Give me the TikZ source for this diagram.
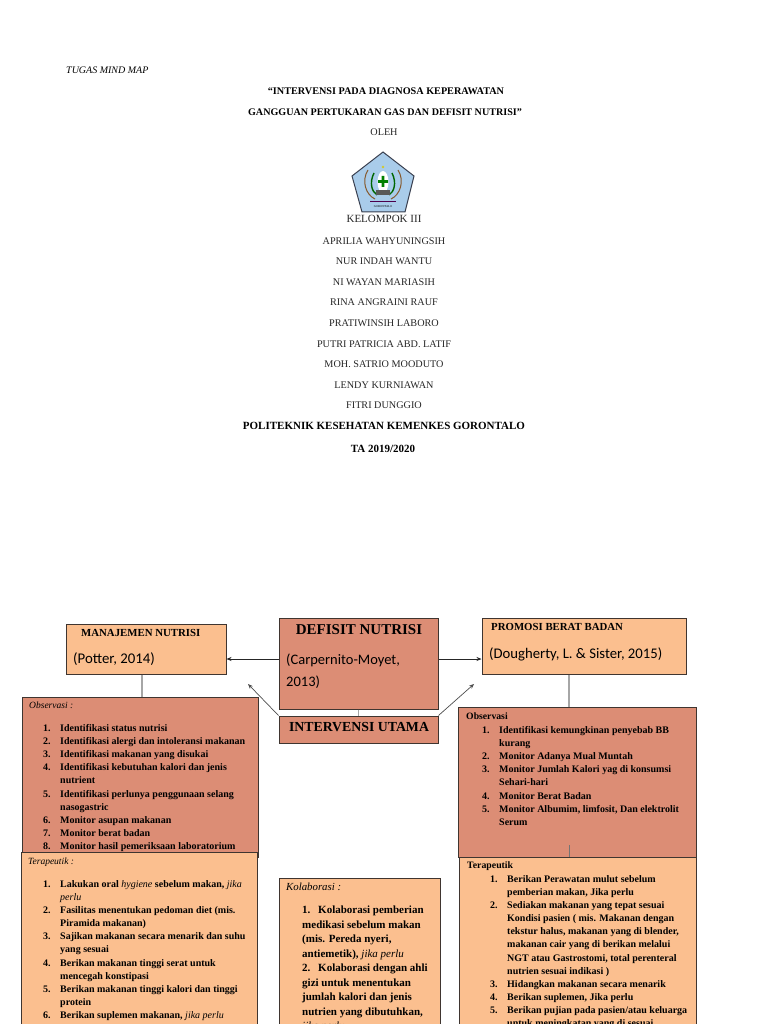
\documentclass[tikz,border=0pt]{standalone}
\usepackage{fontspec}
\setmainfont{Liberation Serif}
\newfontfamily\calibrifont{Carlito}
\usepackage{xcolor}
\usepackage{tikz}
\usetikzlibrary{positioning,shapes.geometric,arrows.meta}
\definecolor{peach}{HTML}{FBBF8F}
\definecolor{salmon}{HTML}{DC8D75}
\definecolor{edge}{HTML}{3F3530}
\definecolor{joint}{HTML}{A6A6A6}
\definecolor{logoblue}{HTML}{A9CCEA}
\definecolor{logonavy}{HTML}{3A4050}
\tikzset{
  peachbox/.style={draw=edge, line width=1pt, fill=peach},
  salmonbox/.style={draw=edge, line width=1pt, fill=salmon},
  arrow/.style={-{Stealth[length=5pt,width=4pt]}, draw=black!85, line width=0.7pt},
  jointline/.style={draw=joint, line width=1.3pt},
  plainline/.style={font=\fontsize{10.2}{12}\selectfont, text=black!85, inner sep=0pt},
  boldline/.style={font=\fontsize{10.1}{12}\selectfont\bfseries, inner sep=0pt},
  listtext/.style={anchor=north west, align=left, inner sep=0pt, font=\fontsize{10}{13.15}\selectfont\bfseries},
  widelist/.style={anchor=north west, align=left, inner sep=0pt, font=\fontsize{11}{14.5}\selectfont\bfseries}
}
\newcommand{\itm}[2]{\makebox[17pt][l]{#1}#2}

\begin{document}
\begin{tikzpicture}[x=1pt,y=-1pt]
  \useasboundingbox (0,0) rectangle (768,1024);
  \clip (0,0) rectangle (768,1024);

  % cover page
  \node[font=\fontsize{10}{12}\selectfont\itshape, inner sep=0pt, anchor=west] (task) at (66,70) {TUGAS MIND MAP};
  \node[font=\fontsize{10.2}{12}\selectfont\bfseries, inner sep=0pt] (titlea) at (386,91) {``INTERVENSI PADA DIAGNOSA KEPERAWATAN};
  \node[boldline] (titleb) at (385,112) {GANGGUAN PERTUKARAN GAS DAN DEFISIT NUTRISI''};
  \node[plainline] (by) at (384,132) {OLEH};

  % logo
  \draw[fill=logoblue, draw=logonavy, line width=1pt] (383,152) -- (414,176) -- (405,212) -- (362,212) -- (352,176) -- cycle;
  \fill[white] (383,182) ellipse (5.5 and 11);
  \fill[green!50!black] (381.7,176) rectangle (384.3,187) (378,180.2) rectangle (388,182.8);
  \draw[green!40!black, line width=1.4pt] (374,173) .. controls (369,183) and (372,192) .. (377,195);
  \draw[green!40!black, line width=1.4pt] (392,173) .. controls (397,183) and (394,192) .. (389,195);
  \draw[brown!70!black, line width=1pt] (368,170) .. controls (361,181) and (366,195) .. (375,199);
  \draw[brown!70!black, line width=1pt] (398,170) .. controls (405,181) and (400,195) .. (391,199);
  \fill[black!65] (376,190) rectangle (390,195);
  \draw[violet!60!black, line width=0.8pt] (370,201) -- (396,201);
  \fill[yellow!80!black] (383,167) circle (1.3);
  \node[font=\fontsize{3}{3.5}\selectfont, inner sep=0pt] (campus) at (383,207) {GORONTALO};

  \node[font=\fontsize{11}{13}\selectfont, text=black!85, inner sep=0pt] (group) at (384,219) {KELOMPOK III};
  \node[plainline] (m1) at (384,241) {APRILIA WAHYUNINGSIH};
  \node[plainline] (m2) at (384,261) {NUR INDAH WANTU};
  \node[plainline] (m3) at (384,282) {NI WAYAN MARIASIH};
  \node[plainline] (m4) at (384,302) {RINA ANGRAINI RAUF};
  \node[plainline] (m5) at (384,323) {PRATIWINSIH LABORO};
  \node[plainline] (m6) at (384,344) {PUTRI PATRICIA ABD. LATIF};
  \node[plainline] (m7) at (384,364) {MOH. SATRIO MOODUTO};
  \node[plainline] (m8) at (384,385) {LENDY KURNIAWAN};
  \node[plainline] (m9) at (384,405) {FITRI DUNGGIO};
  \node[font=\fontsize{11}{13}\selectfont\bfseries, inner sep=0pt] (school) at (384,426) {POLITEKNIK KESEHATAN KEMENKES GORONTALO};
  \node[font=\fontsize{11}{13}\selectfont\bfseries, inner sep=0pt] (year) at (383,449) {TA 2019/2020};

  % boxes
  \node[peachbox, minimum width=160pt, minimum height=50pt] (manajemen) at (146,649) {};
  \node[salmonbox, minimum width=159pt, minimum height=91pt] (defisit) at (358.5,663.5) {};
  \node[salmonbox, minimum width=159pt, minimum height=27pt] (utama) at (358.5,729.5) {};
  \node[peachbox, minimum width=204pt, minimum height=56pt] (promosi) at (584,646) {};
  \node[salmonbox, minimum width=236pt, minimum height=160pt] (obsleft) at (140,777) {};
  \node[salmonbox, minimum width=238pt, minimum height=150pt] (obsright) at (577,782) {};

  \node[font=\fontsize{10.8}{12}\selectfont\bfseries, inner sep=0pt, anchor=west] (manajemenhead) at (81,633) {MANAJEMEN NUTRISI};
  \node[font=\calibrifont\fontsize{14.8}{16}\selectfont, inner sep=0pt, anchor=west] (manajemenref) at (73,659) {(Potter, 2014)};
  \node[font=\fontsize{15}{17}\selectfont\bfseries, inner sep=0pt] (defisithead) at (359,630) {DEFISIT NUTRISI};
  \node[font=\calibrifont\fontsize{14.5}{21.5}\selectfont, inner sep=0pt, anchor=north west, align=left] (defisitref) at (286,654) {(Carpernito-Moyet,\\2013)};
  \node[font=\fontsize{13.8}{15}\selectfont\bfseries, inner sep=0pt] (utamahead) at (359,727) {INTERVENSI UTAMA};
  \node[font=\fontsize{10.8}{12}\selectfont\bfseries, inner sep=0pt, anchor=west] (promosihead) at (491,627) {PROMOSI BERAT BADAN};
  \node[font=\calibrifont\fontsize{14.7}{16}\selectfont, inner sep=0pt, anchor=west] (promosiref) at (489,654) {(Dougherty, L. \& Sister, 2015)};

  % connectors
  \coordinate (leftend) at (248,684);
  \coordinate (rightend) at (474,684);
  \draw[arrow] (defisit.west |- 0,659) -- (manajemen.east |- 0,659);
  \draw[arrow] (defisit.east |- 0,659) -- (promosi.west |- 0,659);
  \draw[arrow, black!70] (utama.north west) -- (leftend);
  \draw[arrow, black!70] (utama.north east) -- (rightend);
  \draw[jointline] (defisit) -- (utama);
  \draw[jointline] (manajemen.south -| 142,0) -- (obsleft.north -| 142,0);
  \draw[jointline] (promosi.south -| 569,0) -- (obsright.north -| 569,0);

  % left column
  \node[font=\fontsize{9.5}{11}\selectfont\itshape, inner sep=0pt, anchor=west] (obslefthead) at (29,705) {Observasi :};
  \node[listtext] (obsleftlist) at (43,724) {%
    \itm{1.}{Identifikasi status nutrisi}\\
    \itm{2.}{Identifikasi alergi dan intoleransi makanan}\\
    \itm{3.}{Identifikasi makanan yang disukai}\\
    \itm{4.}{Identifikasi kebutuhan kalori dan jenis}\\
    \itm{}{nutrient}\\
    \itm{5.}{Identifikasi perlunya penggunaan selang}\\
    \itm{}{nasogastric}\\
    \itm{6.}{Monitor asupan makanan}\\
    \itm{7.}{Monitor berat badan}\\
    \itm{8.}{Monitor hasil pemeriksaan laboratorium}};

  \node[peachbox, minimum width=236pt, minimum height=190pt] (terleft) at (139,947) {};
  \node[font=\fontsize{9.5}{11}\selectfont\itshape, inner sep=0pt, anchor=west] (terlefthead) at (28,862) {Terapeutik :};
  \node[listtext] (terleftlist) at (43,880) {%
    \itm{1.}{Lakukan oral \textmd{\itshape hygiene} sebelum makan, \textmd{\itshape jika}}\\
    \itm{}{\textmd{\itshape perlu}}\\
    \itm{2.}{Fasilitas menentukan pedoman diet (mis.}\\
    \itm{}{Piramida makanan)}\\
    \itm{3.}{Sajikan makanan secara menarik dan suhu}\\
    \itm{}{yang sesuai}\\
    \itm{4.}{Berikan makanan tinggi serat untuk}\\
    \itm{}{mencegah konstipasi}\\
    \itm{5.}{Berikan makanan tinggi kalori dan tinggi}\\
    \itm{}{protein}\\
    \itm{6.}{Berikan suplemen makanan, \textmd{\itshape jika perlu}}};

  % middle column
  \node[peachbox, minimum width=161pt, minimum height=160pt] (kolaborasi) at (359.5,958) {};
  \node[font=\fontsize{10.8}{12}\selectfont\itshape, inner sep=0pt, anchor=west] (kolaborasihead) at (286,887) {Kolaborasi :};
  \node[widelist] (kolaborasilist) at (302,906) {%
    \makebox[16pt][l]{1.}Kolaborasi pemberian\\
    medikasi sebelum makan\\
    (mis. Pereda nyeri,\\
    antiemetik), \textmd{\itshape jika perlu}\\
    \makebox[16pt][l]{2.}Kolaborasi dengan ahli\\
    gizi untuk menentukan\\
    jumlah kalori dan jenis\\
    nutrien yang dibutuhkan,\\
    \textmd{\itshape jika perlu}};

  % right column
  \node[font=\fontsize{9.7}{11}\selectfont\bfseries, inner sep=0pt, anchor=west] (obsrighthead) at (466,716) {Observasi};
  \node[listtext] (obsrightlist) at (482,726) {%
    \itm{1.}{Identifikasi kemungkinan penyebab BB}\\
    \itm{}{kurang}\\
    \itm{2.}{Monitor Adanya Mual Muntah}\\
    \itm{3.}{Monitor Jumlah Kalori yag di konsumsi}\\
    \itm{}{Sehari-hari}\\
    \itm{4.}{Monitor Berat Badan}\\
    \itm{5.}{Monitor Albumim, limfosit, Dan elektrolit}\\
    \itm{}{Serum}};

  \node[peachbox, minimum width=237pt, minimum height=173pt] (terright) at (577.5,943.5) {};
  \draw[draw=joint!70!black, line width=0.8pt] (terright.north -| 569,0) -- ++(0,-12);
  \node[font=\fontsize{9.8}{11}\selectfont\bfseries, inner sep=0pt, anchor=west] (terrighthead) at (467,866) {Terapeutik};
  \node[listtext] (terrightlist) at (490,875) {%
    \itm{1.}{Berikan Perawatan mulut sebelum}\\
    \itm{}{pemberian makan, Jika perlu}\\
    \itm{2.}{Sediakan makanan yang tepat sesuai}\\
    \itm{}{Kondisi pasien ( mis. Makanan dengan}\\
    \itm{}{tekstur halus, makanan yang di blender,}\\
    \itm{}{makanan cair yang di berikan melalui}\\
    \itm{}{NGT atau Gastrostomi, total perenteral}\\
    \itm{}{nutrien sesuai indikasi )}\\
    \itm{3.}{Hidangkan makanan secara menarik}\\
    \itm{4.}{Berikan suplemen, Jika perlu}\\
    \itm{5.}{Berikan pujian pada pasien/atau keluarga}\\
    \itm{}{untuk meningkatan yang di sesuai}};
\end{tikzpicture}
\end{document}
